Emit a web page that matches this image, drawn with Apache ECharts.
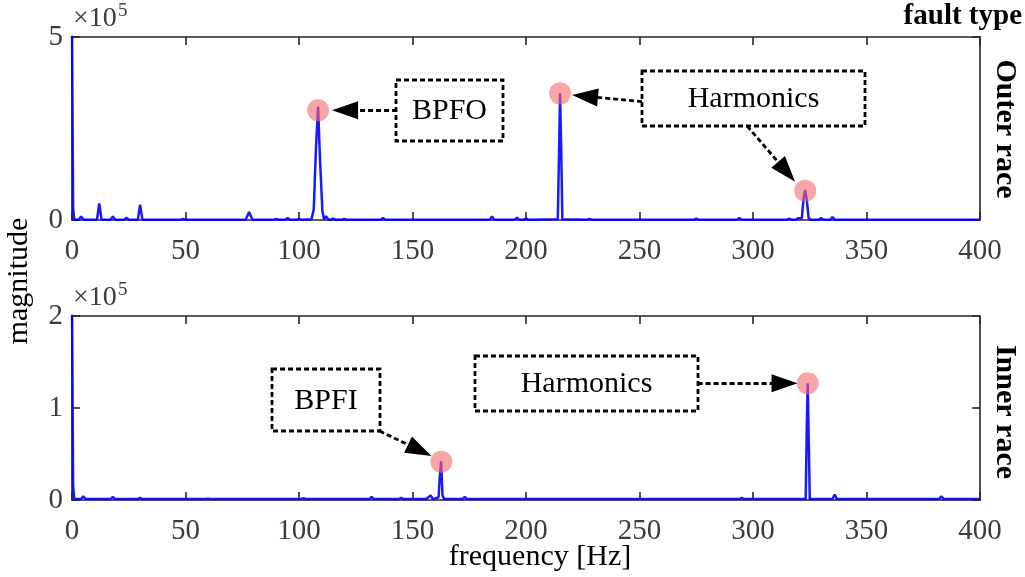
<!DOCTYPE html>
<html><head><meta charset="utf-8">
<script src="https://cdn.jsdelivr.net/npm/echarts@6/dist/echarts.min.js"></script>
<style>html,body{margin:0;padding:0;background:#fff}#c{width:1025px;height:577px}</style>
</head><body><div id="c"></div>
<script>
// Outer race spectrum (frequency Hz, magnitude x1e5)
const outerFreq = [0,0.5,1,3,4,5,11,12,13,17,18,19,23,24,25,29,30,31,48,49,50,76.5,78,79.5,89,90,91,94,95,96,99,100,101,105.5,106.5,107.5,108.4,109.3,110.3,111,112,113,114,115,116,119,120,121,136,137,138,184,185,186,195,196,197,199,200,201,214,214.6,215,215.5,216,227,228,229,274,275,276,293,294,295,315,316,317,319,320,321.5,322.3,323,323.7,324.5,325.5,329,330,331,334,335,336,400];
const outerMag  = [5.2,0.3,0.01,0.01,0.1,0.01,0.01,0.45,0.01,0.01,0.1,0.01,0.01,0.06,0.01,0.01,0.42,0.01,0.01,0.03,0.01,0.01,0.22,0.01,0.01,0.03,0.01,0.01,0.05,0.01,0.01,0.03,0.01,0.02,0.3,2.0,3.1,1.6,0.25,0.02,0.1,0.01,0.01,0.04,0.01,0.01,0.03,0.01,0.01,0.05,0.01,0.01,0.1,0.01,0.01,0.06,0.01,0.01,0.04,0.01,0.02,2.0,3.46,2.0,0.02,0.01,0.03,0.01,0.01,0.04,0.01,0.01,0.05,0.01,0.01,0.04,0.01,0.01,0.05,0.05,0.6,0.82,0.55,0.05,0.01,0.01,0.05,0.01,0.01,0.08,0.01,0.01];
// Inner race spectrum
const innerFreq = [0,0.5,1,4,5,6,17,18,19,29,30,31,59,60,61,101,102,103,131,132,133,144,145,146,156,157,158,159,161.5,162,162.6,163.2,164,172,173,174,294,295,296,323.2,323.7,324.1,324.6,325,335,336,337,382,383,384,400];
const innerMag  = [2.1,0.15,0.01,0.01,0.04,0.01,0.01,0.035,0.01,0.01,0.025,0.01,0.01,0.015,0.01,0.01,0.02,0.01,0.01,0.035,0.01,0.01,0.025,0.01,0.01,0.03,0.05,0.01,0.03,0.25,0.42,0.05,0.01,0.01,0.035,0.01,0.01,0.025,0.01,0.01,0.8,1.27,0.6,0.01,0.01,0.06,0.01,0.01,0.04,0.01,0.01];
// Highlighted peaks
const outerPeaks = [[108.4,3.0],[215,3.46],[323,0.80]];
const innerPeaks = [[162.7,0.416],[324.1,1.27]];
// axis ranges / ticks
const xTicks = [0,50,100,150,200,250,300,350,400];
const outerYMax = 5, outerYStep = 5;
const innerYMax = 2, innerYStep = 1;
// annotation boxes: [text, x1, y1, x2, y2] in data units
const outerBoxes = [['BPFO',142.9,3.825,190.0,2.158],['Harmonics',251.0,4.071,349.3,2.568]];
const innerBoxes = [['BPFI',88.3,1.424,135.5,0.753],['Harmonics',177.7,1.565,275.6,0.967]];
// annotation arrows: [from, to] in data units
const outerArrows = [[[143.2,3.0],[120.3,3.0]],[[251.1,3.232],[226.0,3.383]],[[297.4,2.568],[314.8,1.317]]];
const innerArrows = [[[135.5,0.75],[153.2,0.54]],[[275.6,1.268],[313.9,1.268]]];

const serif = 'Liberation Serif';
const axisCol = '#262626';
const labelCol = '#3c3c3c';
const chart = echarts.init(document.getElementById('c'), null, {renderer:'canvas'});
function pairs(f,m){ return f.map((x,i)=>[x,m[i]]); }

function xAx(grid, bottom){
  return {type:'value', gridIndex:grid, min:0, max:400, interval:50, position: bottom?'bottom':'top',
    axisLine:{show:true, onZero:false, lineStyle:{color:axisCol, width:1.6}},
    axisTick:{show:true, inside:true, length:8, lineStyle:{color:axisCol, width:1.6}},
    axisLabel:{show:bottom, margin:17, color:labelCol, fontFamily:serif, fontSize:29,
      formatter:v=> xTicks.indexOf(v)>=0 ? String(v) : ''},
    splitLine:{show:false}};
}
function yAx(grid, max, step, left){
  return {type:'value', gridIndex:grid, min:0, max:max, interval:step, position: left?'left':'right',
    axisLine:{show:true, onZero:false, lineStyle:{color:axisCol, width:1.6}},
    axisTick:{show:true, inside:true, length:8, lineStyle:{color:axisCol, width:1.6}},
    axisLabel:{show:left, margin:9, color:labelCol, fontFamily:serif, fontSize:29},
    splitLine:{show:false}};
}
const dash = [5,3];
function arrows(list){
  return {symbol:['none','triangle'], symbolSize:[18,26], silent:true, animation:false,
    lineStyle:{color:'#000', width:2.8, type:dash}, label:{show:false},
    data:list.map(a=>[{coord:a[0]},{coord:a[1]}])};
}
const lineStyle = {color:'#0000ff', width:2.5, opacity:0.9};

chart.setOption({
  animation:false,
  backgroundColor:'#fff',
  grid:[{left:72, right:45, top:37, height:183},{left:72, right:45, top:316, height:184}],
  xAxis:[xAx(0,true), xAx(0,false), xAx(1,true), xAx(1,false)],
  yAxis:[yAx(0,outerYMax,outerYStep,true), yAx(0,outerYMax,outerYStep,false), yAx(1,innerYMax,innerYStep,true), yAx(1,innerYMax,innerYStep,false)],
  series:[
    {type:'line', xAxisIndex:0, yAxisIndex:0, data:pairs(outerFreq,outerMag), showSymbol:false, lineStyle:lineStyle, clip:true, z:2,
      markLine: arrows(outerArrows)},
    {type:'scatter', xAxisIndex:0, yAxisIndex:0, data:outerPeaks, symbolSize:22, z:3,
      itemStyle:{color:'rgba(245,105,105,0.75)'}},
    {type:'line', xAxisIndex:2, yAxisIndex:2, data:pairs(innerFreq,innerMag), showSymbol:false, lineStyle:lineStyle, clip:true, z:2,
      markLine: arrows(innerArrows)},
    {type:'scatter', xAxisIndex:2, yAxisIndex:2, data:innerPeaks, symbolSize:22, z:3,
      itemStyle:{color:'rgba(245,105,105,0.75)'}}
  ]
});

const g = [
  {type:'text', x:1022, y:2, style:{text:'fault type', fontFamily:serif, fontSize:29, fontWeight:'bold', fill:'#000', align:'right', verticalAlign:'top'}},
  {type:'text', x:1005, y:129, rotation:-Math.PI/2, style:{text:'Outer race', fontFamily:serif, fontSize:30, fontWeight:'bold', fill:'#000', align:'center', verticalAlign:'middle'}},
  {type:'text', x:1005, y:412, rotation:-Math.PI/2, style:{text:'Inner race', fontFamily:serif, fontSize:30, fontWeight:'bold', fill:'#000', align:'center', verticalAlign:'middle'}},
  {type:'text', x:19, y:281, rotation:Math.PI/2, style:{text:'magnitude', fontFamily:serif, fontSize:30, fill:'#000', align:'center', verticalAlign:'middle'}},
  {type:'text', x:540, y:557, style:{text:'frequency [Hz]', fontFamily:serif, fontSize:30, fill:'#000', align:'center', verticalAlign:'middle'}}
];
// ×10^5 exponent labels above each y axis
[[0,0],[2,2]].forEach(([xi,yi])=>{
  const yAxisMax = yi===0 ? outerYMax : innerYMax;
  const p = chart.convertToPixel({xAxisIndex:xi, yAxisIndex:yi},[0,yAxisMax]);
  g.push({type:'text', x:p[0]+1, y:p[1]-4, style:{text:'×10', fontFamily:serif, fontSize:28, fill:labelCol, align:'left', verticalAlign:'bottom'}});
  g.push({type:'text', x:p[0]+46, y:p[1]-16, style:{text:'5', fontFamily:serif, fontSize:19, fill:labelCol, align:'left', verticalAlign:'bottom'}});
});
function addBoxes(list, xi, yi){
  list.forEach(b=>{
    const p1 = chart.convertToPixel({xAxisIndex:xi, yAxisIndex:yi},[b[1],b[2]]);
    const p2 = chart.convertToPixel({xAxisIndex:xi, yAxisIndex:yi},[b[3],b[4]]);
    const x = Math.round(p1[0]), y = Math.round(p1[1]);
    const w = Math.round(p2[0]) - x, h = Math.round(p2[1]) - y;
    g.push({type:'rect', z:10, shape:{x:x, y:y, width:w, height:h},
      style:{fill:'#fff', stroke:'#000', lineWidth:2.8, lineDash:dash}});
    g.push({type:'text', z:11, x:x+w/2, y:y+h/2+1, style:{text:b[0], fontFamily:serif, fontSize:30, fill:'#000', align:'center', verticalAlign:'middle'}});
  });
}
addBoxes(outerBoxes,0,0);
addBoxes(innerBoxes,2,2);
chart.setOption({graphic:g});
</script></body></html>
